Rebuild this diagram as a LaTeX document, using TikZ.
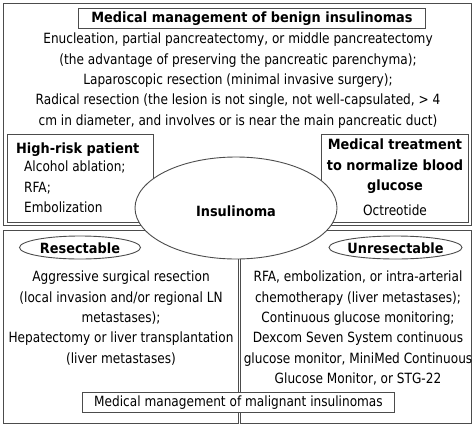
\documentclass[tikz,border=0pt]{standalone}
\usepackage{fontspec}
\setmainfont{DejaVu Sans}[FakeStretch=0.86, BoldFeatures={FakeStretch=0.915}]
\usetikzlibrary{shapes.geometric}
\definecolor{ln}{gray}{0.3}
\tikzset{
  x=1pt, y=-1pt,
  frame/.style={draw=ln, line width=0.9pt, inner sep=0pt, anchor=north west},
  titlebox/.style={draw=ln, line width=0.9pt, fill=white, inner sep=0pt, anchor=north west},
  oval/.style={ellipse, draw=ln, line width=0.9pt, fill=white, inner sep=0pt},
  txt/.style={font=\fontsize{14.1}{20.3}\selectfont, align=center, inner sep=0pt},
  btxt/.style={font=\fontsize{14.1}{20.3}\selectfont\bfseries, align=center, inner sep=0pt},
}
\begin{document}
\begin{tikzpicture}
\useasboundingbox (0,0) rectangle (474,426);
% frames
\node[frame, minimum width=468, minimum height=222] (top) at (3,3) {};
\node[frame, minimum width=146, minimum height=88] (hr) at (7,134) {};
\node[frame, minimum width=147, minimum height=88] (mt) at (321,134) {};
\node[frame, minimum width=235, minimum height=193] (botL) at (3,230) {};
\node[frame, minimum width=231, minimum height=193] (botR) at (240,230) {};
% titles
\node[titlebox, minimum width=347, minimum height=20] (t1) at (78,8) {};
\node[btxt] (t1txt) at (t1.center) {Medical management of benign insulinomas};
\node[titlebox, minimum width=312, minimum height=20] (t2) at (82,392) {};
\node[txt] (t2txt) at (t2.center) {Medical management of malignant insulinomas};
% top text
\node[txt, anchor=north] (benign) at (238,33) {Enucleation, partial pancreatectomy, or middle pancreatectomy\\(the advantage of preserving the pancreatic parenchyma);\\Laparoscopic resection (minimal invasive surgery);\\Radical resection (the lesion is not single, not well-capsulated, {>} 4\\cm in diameter, and involves or is near the main pancreatic duct)};
% high-risk
\node[btxt, anchor=west] (hrt) at (16,150) {High-risk patient};
\node[txt, anchor=north west, align=left] (hrl) at (24,161) {Alcohol ablation;\\RFA;\\Embolization};
% medical treatment
\node[btxt, anchor=north] (mtt) at (395,139) {Medical treatment\\to normalize blood\\glucose};
\node[txt] (mtl) at (395,210) {Octreotide};
% center ellipse
\node[oval, minimum width=202, minimum height=102] (ins) at (236,208) {};
\node[btxt] (inst) at (236,211) {Insulinoma};
% small ellipses
\node[oval, minimum width=121, minimum height=23] (res) at (80,247.5) {};
\node[btxt] (rest) at (80,248) {Resectable};
\node[oval, minimum width=133, minimum height=23] (unres) at (395.5,247.5) {};
\node[btxt] (unrest) at (395.5,248) {Unresectable};
% bottom texts
\node[txt, anchor=north] (lt) at (121,271) {Aggressive surgical resection\\(local invasion and/or regional LN\\metastases);\\Hepatectomy or liver transplantation\\(liver metastases)};
\node[txt, anchor=north] (rt) at (358,271) {RFA, embolization, or intra-arterial\\chemotherapy (liver metastases);\\Continuous glucose monitoring;\\Dexcom Seven System continuous\\glucose monitor, MiniMed Continuous\\Glucose Monitor, or STG-22};
\end{tikzpicture}
\end{document}
